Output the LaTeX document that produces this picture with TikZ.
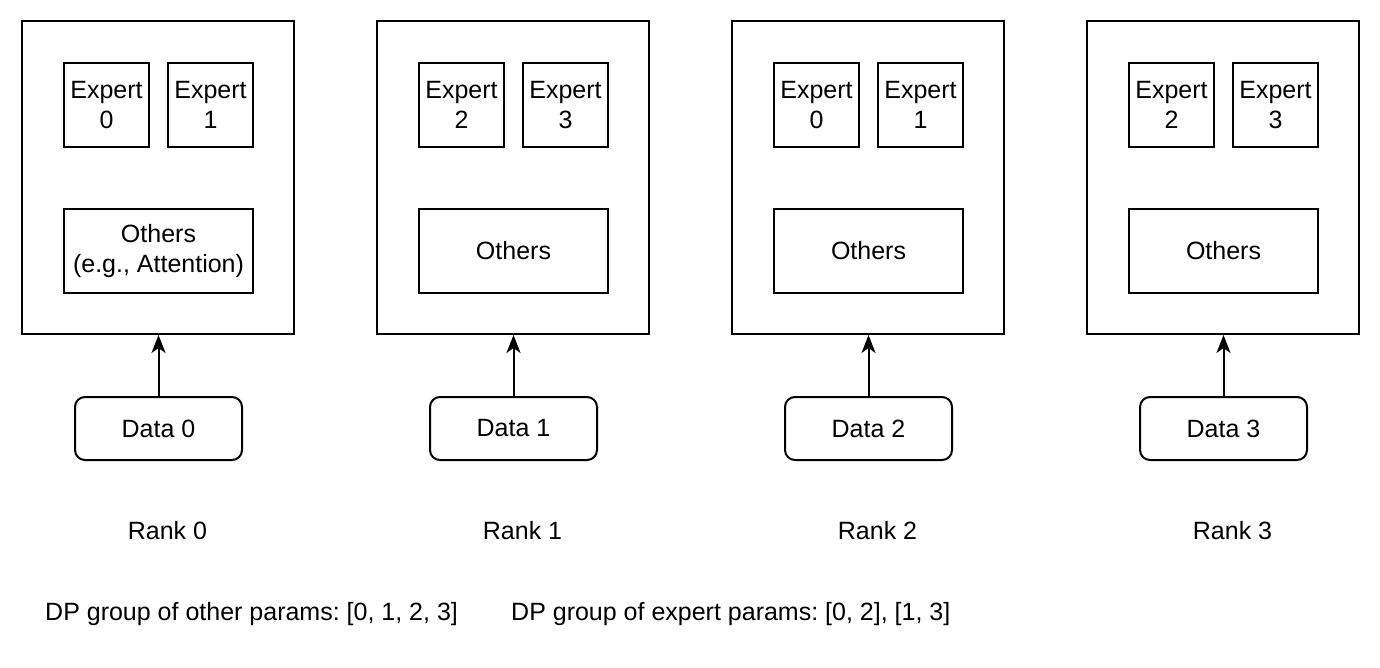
\documentclass[tikz,border=0pt]{standalone}
\usepackage{fontspec}
\setmainfont{Liberation Sans}
\usetikzlibrary{arrows.meta}
\frenchspacing
\begin{document}
\begin{tikzpicture}[x=1pt,y=-1pt,
  txt/.style={font=\fontsize{25}{30.5}\selectfont\frenchspacing},
  rankbox/.style={draw,line width=2pt,minimum width=272pt,minimum height=313pt,inner sep=0pt,anchor=north west},
  expbox/.style={txt,draw,line width=2pt,minimum width=85pt,minimum height=84pt,inner sep=0pt,align=center,anchor=north west},
  othbox/.style={txt,draw,line width=2pt,minimum width=189pt,minimum height=84pt,inner sep=0pt,align=center,anchor=north west},
  databox/.style={txt,draw,line width=2pt,rounded corners=10pt,minimum width=167pt,minimum height=63pt,inner sep=0pt,anchor=north west},
  lbl/.style={txt,inner sep=0pt},
  conn/.style={line width=2pt,-{Stealth[length=18pt,width=14pt,inset=5pt]}}
]
\useasboundingbox (0,0) rectangle (1380,668);
\foreach \i/\ea/\eb/\oth in {0/0/1/{Others\\(e.g., Attention)},1/2/3/Others,2/0/1/Others,3/2/3/Others}{
  \pgfmathsetmacro{\dx}{355*\i}
  \node[rankbox] (rank\i) at (21+\dx,20) {};
  \node[expbox] (ea\i) at (63+\dx,62) {Expert\\\ea};
  \node[expbox] (eb\i) at (167+\dx,62) {Expert\\\eb};
  \node[othbox] (oth\i) at (63+\dx,208) {\oth};
  \node[databox] (data\i) at (74+\dx,396) {Data \i};
  \node[lbl] (rl\i) at (167.5+\dx,531) {Rank \i};
  \draw[conn] (data\i.north) -- (data\i.north |- rank\i.south);
}
\node[lbl,anchor=west] (dpo) at (45,614) {DP group of other params: [0, 1, 2, 3]};
\node[lbl,anchor=west] (dpe) at (511,614) {DP group of expert params: [0, 2], [1, 3]};
\end{tikzpicture}
\end{document}
